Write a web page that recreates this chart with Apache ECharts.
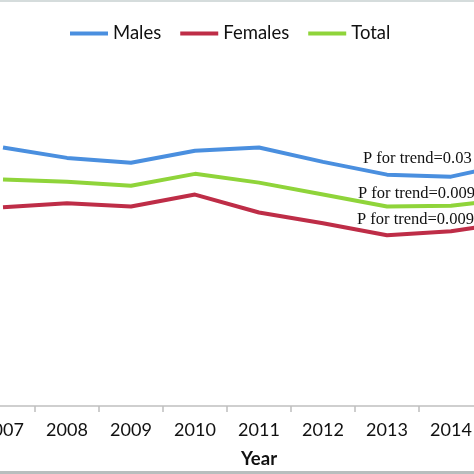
<!DOCTYPE html>
<html><head><meta charset="utf-8">
<script src="https://cdn.jsdelivr.net/npm/echarts@6/dist/echarts.min.js"></script>
<style>html,body{margin:0;padding:0;background:#fff;overflow:hidden;width:474px;height:474px;position:relative}#c{position:absolute;left:-29px;top:0;width:576px;height:474px}</style>
</head><body><div id="c"></div>
<script>
const years = ['2007','2008','2009','2010','2011','2012','2013','2014','2015'];
const males = [32.4, 31.1, 30.5, 32.0, 32.4, 30.6, 29.0, 28.75, 30.5];
const females = [24.9, 25.4, 25.0, 26.5, 24.25, 22.9, 21.4, 21.9, 23.1];
const total = [28.4, 28.1, 27.6, 29.1, 28.0, 26.5, 25.0, 25.1, 26.0];
const trendLabels = ['P for trend=0.03', 'P for trend=0.009', 'P for trend=0.009'];

const OX = 29; // offset of the visible window inside the wider chart
const chart = echarts.init(document.getElementById('c'));
const lineS = (name, data, color) => ({
  name, type: 'line', data, symbol: 'none', smooth: false,
  lineStyle: { color, width: 4 }, itemStyle: { color }
});
const tf = '16.5px "Liberation Serif"';
chart.setOption({
  animation: false,
  backgroundColor: '#fff',
  legend: {
    top: 19, left: 65 + OX,
    itemWidth: 38, itemHeight: 4, itemGap: 19, icon: 'rect',
    textStyle: { fontFamily: 'Lato', fontSize: 18.5, color: '#111' },
    data: ['Males', 'Females', 'Total']
  },
  grid: { left: 0, right: 0, top: 47, bottom: 67, containLabel: false },
  xAxis: {
    type: 'category', data: years, boundaryGap: true,
    name: 'Year', nameLocation: 'middle', nameGap: 44,
    nameTextStyle: { fontFamily: 'Lato', fontSize: 18.5, fontWeight: 'bold', color: '#111' },
    axisLine: { lineStyle: { color: '#BFBFBF', width: 1.5 } },
    axisTick: { show: true, length: 6, lineStyle: { color: '#BFBFBF', width: 1.5 } },
    axisLabel: { fontFamily: 'Lato', fontSize: 18, color: '#111', margin: 15 }
  },
  yAxis: { type: 'value', min: 0, max: 45, show: false, splitLine: { show: false } },
  series: [
    lineS('Males', males, '#4A8FDF'),
    lineS('Females', females, '#BE2D47'),
    lineS('Total', total, '#8FD43A')
  ],
  graphic: [
    { type: 'rect', left: 0, top: 0, shape: { width: 576, height: 2 }, style: { fill: '#D5DCDC' } },
    { type: 'rect', left: 0, top: 471, shape: { width: 576, height: 3 }, style: { fill: '#B8BEBE' } },
    { type: 'text', x: 363 + OX, y: 159, style: { text: trendLabels[0], font: tf, fill: '#111', textVerticalAlign: 'middle' } },
    { type: 'text', x: 358 + OX, y: 194, style: { text: trendLabels[1], font: tf, fill: '#111', textVerticalAlign: 'middle' } },
    { type: 'text', x: 357 + OX, y: 220, style: { text: trendLabels[2], font: tf, fill: '#111', textVerticalAlign: 'middle' } }
  ]
});
</script></body></html>
